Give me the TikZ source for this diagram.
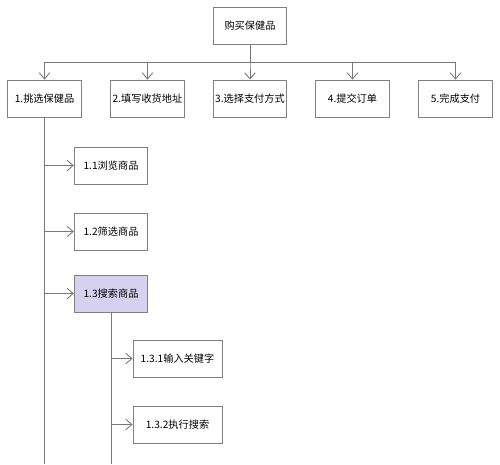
\documentclass[tikz,border=0pt]{standalone}
\usepackage{fontspec}
\setmainfont{Noto Sans CJK SC}
\usepackage{xcolor}
\usetikzlibrary{shapes,arrows.meta,positioning}
\definecolor{boxgray}{RGB}{128,128,128}
\definecolor{linegray}{RGB}{120,120,120}
\definecolor{pickfill}{RGB}{214,209,238}

\begin{document}
\begin{tikzpicture}[x=0.02cm, y=0.02cm,
    task/.style={draw=boxgray, line width=0.5pt, fill=white, minimum width=1.47cm, minimum height=0.74cm, inner sep=1pt, font=\fontsize{5.8}{7}\selectfont},
    subtask/.style={task, minimum width=1.78cm},
    arr/.style={draw=linegray, line width=0.5pt, -{Straight Barb[length=3.5pt, width=6pt]}},
    trunk/.style={draw=linegray, line width=0.5pt}]
    \useasboundingbox (0,0) rectangle (500,-464);

    \node[task] (root) at (250,-26) {购买保健品};

    \node[task] (s1) at (44.5,-98.5) {1.挑选保健品};
    \node[task] (s2) at (147.5,-98.5) {2.填写收货地址};
    \node[task] (s3) at (250,-98.5) {3.选择支付方式};
    \node[task] (s4) at (352.5,-98.5) {4.提交订单};
    \node[task] (s5) at (455.5,-98.5) {5.完成支付};

    \node[task] (s11) at (111,-165.5) {1.1浏览商品};
    \node[task] (s12) at (111,-231.5) {1.2筛选商品};
    \node[task, fill=pickfill] (s13) at (111,-293.5) {1.3搜索商品};

    \node[subtask] (s131) at (177.5,-358.5) {1.3.1输入关键字};
    \node[subtask] (s132) at (177.5,-424.5) {1.3.2执行搜索};

    % root to the five steps
    \foreach \n in {s1,s2,s3,s4,s5}
        \draw[arr] (root.south) -- ++(0,-17) -| (\n.north);

    % step 1 and its branches
    \draw[trunk] (s1.south) -- ++(0,-347) coordinate (end1);
    \foreach \n in {s11,s12,s13}
        \draw[arr] (s1.south |- \n.west) -- (\n.west);

    % search and its branches
    \draw[trunk] (s13.south) -- ++(0,-152) coordinate (end13);
    \foreach \n in {s131,s132}
        \draw[arr] (s13.south |- \n.west) -- (\n.west);
\end{tikzpicture}
\end{document}
